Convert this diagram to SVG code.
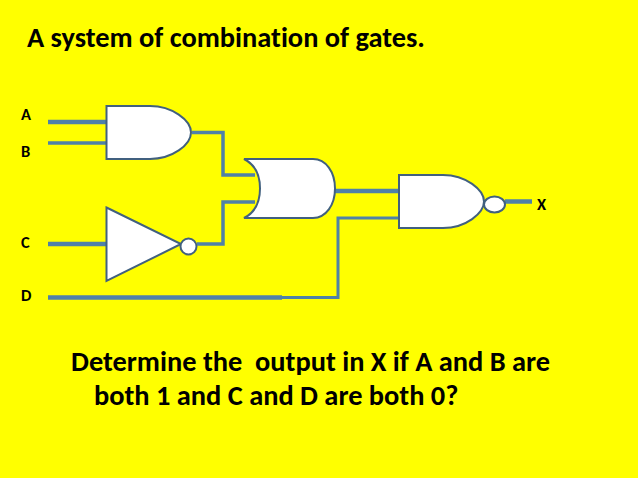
<svg xmlns="http://www.w3.org/2000/svg" width="638" height="478" viewBox="0 0 638 478">
<style>
text{font-family:"Carlito","Lato","Liberation Sans",sans-serif;font-weight:bold;fill:#000;font-variant-ligatures:none;white-space:pre}
.t{font-size:28.4px}
.l{font-size:16.500px}
.g{fill:#fff;stroke:#41607f;stroke-width:2}
.w{fill:none;stroke:#4f81a8;stroke-width:3.500}
.n{fill:none;stroke:#4f81a8;stroke-width:3}
.k{fill:none;stroke:#4f81a8;stroke-width:4.500}
</style>
<rect width="638" height="478" fill="#ffff00"/>
<g id="connectors">
<path class="k" d="M48 122H106"/>
<path class="w" d="M48 143H106"/>
<path class="k" d="M48 244H106"/>
<path class="k" d="M48 297.500H282"/>
<path class="n" d="M282 297.500H338V218H399"/>
<path class="w" d="M192 132.500H223V175H255"/>
<path class="w" d="M197 244H223V202H255"/>
<path class="k" d="M335 191H399"/>
<path class="k" d="M505 201.500H532"/>
</g>
<g id="and-gate"><path class="g" d="M106.500 106H150C172 106 191 120 191 132.500C191 145 172 159 150 159H106.500Z"/></g>
<g id="not-gate"><path class="g" d="M106.500 207.500L181 244L106.500 281Z"/><circle class="g" cx="188.500" cy="246.500" r="8"/></g>
<g id="or-gate"><path class="g" d="M244 159H313C326 159 335 172 335 188.500C335 205 326 218 313 218H244C256 212 260 200 260 188.500C260 177 256 165 244 159Z"/></g>
<g id="nand-gate"><path class="g" d="M399 175H443C466 175 484 190 484 201.500C484 213 466 228 443 228H399Z"/><ellipse class="g" cx="494.500" cy="204.500" rx="10.500" ry="8"/></g>
<g id="labels">
<text class="t" x="27" y="47">A system of combination of gates.</text>
<text class="l" x="21" y="120">A</text>
<text class="l" x="21" y="157">B</text>
<text class="l" x="21" y="248">C</text>
<text class="l" x="21" y="301">D</text>
<text class="l" x="537" y="210">X</text>
<text class="t" x="71" y="371">Determine the  output in X if A and B are</text>
<text class="t" x="94" y="405">both 1 and C and D are both 0?</text>
</g>
</svg>
